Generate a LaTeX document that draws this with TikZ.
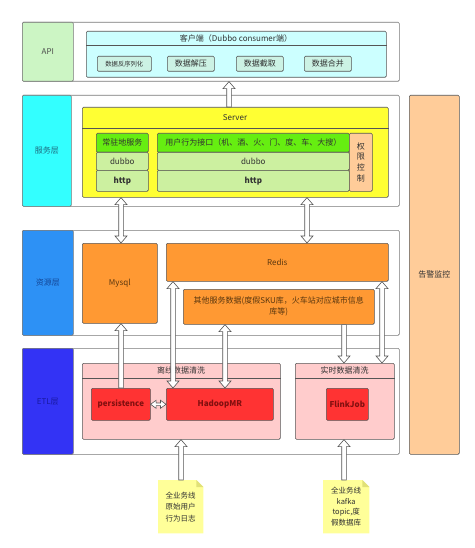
\documentclass[tikz,border=0pt]{standalone}
\usepackage{fontspec}
\setmainfont{Noto Sans CJK SC}
\usetikzlibrary{calc,backgrounds}
\definecolor{bd}{RGB}{85,85,85}
\definecolor{obd}{RGB}{120,120,120}
\definecolor{txt}{RGB}{50,50,50}
\definecolor{apigreen}{RGB}{204,245,196}
\definecolor{clientc}{RGB}{204,255,255}
\definecolor{smallc}{RGB}{204,242,228}
\definecolor{svccyan}{RGB}{51,255,255}
\definecolor{yellowc}{RGB}{255,255,51}
\definecolor{greenh}{RGB}{102,238,17}
\definecolor{palegreen}{RGB}{204,240,160}
\definecolor{peach}{RGB}{255,204,153}
\definecolor{resblue}{RGB}{45,145,245}
\definecolor{orangec}{RGB}{255,153,51}
\definecolor{etlblue}{RGB}{51,51,245}
\definecolor{pinkc}{RGB}{255,204,204}
\definecolor{redc}{RGB}{255,51,51}
\definecolor{notey}{RGB}{255,255,153}
\definecolor{notefold}{RGB}{225,225,120}
\definecolor{orangetxt}{RGB}{90,55,15}
\definecolor{redtxt}{RGB}{130,15,15}
% arrow geometry (pt): shaft half width, head half width, head length
\def\faw{2.3}\def\fahw{6}\def\fahl{7}
\newcommand\fatarrow[3]{%
  \path #2 coordinate (fas) #3 coordinate (fae);%
  \pgfpointdiff{\pgfpointanchor{fas}{center}}{\pgfpointanchor{fae}{center}}%
  \pgfgetlastxy{\fadx}{\fady}%
  \pgfmathsetmacro\falen{veclen(\fadx,\fady)}%
  \pgfmathsetmacro\faang{atan2(\fady,\fadx)}%
  \pgfmathsetmacro\fab{\falen-\fahl}%
  \begin{scope}[shift={(fas)}, rotate=\faang]
  \ifnum#1=1
    \draw[fatarr] (\fahl pt,-\faw pt) -- (\fab pt,-\faw pt) -- (\fab pt,-\fahw pt) -- (\falen pt,0pt) -- (\fab pt,\fahw pt) -- (\fab pt,\faw pt) -- (\fahl pt,\faw pt) -- (\fahl pt,\fahw pt) -- (0pt,0pt) -- (\fahl pt,-\fahw pt) -- cycle;
  \else
    \draw[fatarr] (0pt,-\faw pt) -- (\fab pt,-\faw pt) -- (\fab pt,-\fahw pt) -- (\falen pt,0pt) -- (\fab pt,\fahw pt) -- (\fab pt,\faw pt) -- (0pt,\faw pt) -- cycle;
  \fi
  \end{scope}%
}
\begin{document}
\begin{tikzpicture}[x=1pt,y=-1pt,
  box/.style={draw=bd, line width=0.6pt, rounded corners=1.2pt, inner sep=0pt, anchor=north west, text=txt, align=center, font=\fontsize{8}{10}\selectfont},
  layer/.style={box, draw=obd, fill=white, minimum width=377pt},
  lbl/.style={inner sep=0pt, text=txt, align=center, font=\fontsize{8}{10}\selectfont},
  fatarr/.style={draw=bd, fill=white, line width=0.6pt, line join=miter},
  note/.style={inner sep=0pt, anchor=north west, text=txt, align=center}]
\useasboundingbox (0,0) rectangle (474,548);
% x positions of connectors
\coordinate (c121) at (121,0);
\coordinate (c173) at (173,0);
\coordinate (c181) at (181,0);
\coordinate (c225) at (225,0);
\coordinate (c229) at (229,0);
\coordinate (c307) at (307,0);
\coordinate (c344) at (344,0);
\coordinate (c382) at (382,0);
% API layer
\node[layer, minimum height=59pt] (apiL) at (22,22) {};
\node[box, draw=obd, fill=apigreen, minimum width=51pt, minimum height=59pt, text=black!70] (apiLab) at (22,22) {API};
\node[box, fill=clientc, minimum width=300pt, minimum height=46pt] (client) at (86,31) {};
\draw[bd, line width=0.6pt] ($(client.north west)+(0,14)$) -- ($(client.north east)+(0,14)$);
\node[lbl] (clientT) at (236,38) {客户端（Dubbo consumer端）};
\node[box, fill=smallc, minimum width=54pt, minimum height=15pt, font=\fontsize{6.3}{8}\selectfont] (s1) at (97,56) {数据反序列化};
\node[box, fill=smallc, minimum width=47pt, minimum height=15pt] (s2) at (167,56) {数据解压};
\node[box, fill=smallc, minimum width=47pt, minimum height=15pt] (s3) at (236,56) {数据截取};
\node[box, fill=smallc, minimum width=47pt, minimum height=15pt] (s4) at (304,56) {数据合并};
% service layer
\node[layer, minimum height=111pt] (svcL) at (22,95) {};
\node[box, draw=obd, fill=svccyan, minimum width=49pt, minimum height=111pt, text={rgb,255:red,30;green,110;blue,130}] (svcLab) at (22,95) {服务层};
\node[box, fill=yellowc, minimum width=306pt, minimum height=90pt] (server) at (82,107) {};
\draw[bd, line width=0.6pt] ($(server.north west)+(0,21)$) -- ($(server.north east)+(0,21)$);
\node[lbl] (serverT) at (235,117.5) {Server};
\node[box, fill=greenh, minimum width=52pt, minimum height=19pt] (rzH) at (96,133) {常驻地服务};
\node[box, fill=palegreen, minimum width=52pt, minimum height=18pt] (rzD) at (96,152) {dubbo};
\node[box, fill=palegreen, minimum width=52pt, minimum height=21pt, font=\fontsize{8}{10}\selectfont\bfseries] (rzP) at (96,170) {http};
\node[box, fill=greenh, minimum width=192pt, minimum height=19pt] (uiH) at (157,133) {用户行为接口（机、酒、火、门、度、车、大搜）};
\node[box, fill=palegreen, minimum width=192pt, minimum height=18pt] (uiD) at (157,152) {dubbo};
\node[box, fill=palegreen, minimum width=192pt, minimum height=21pt, font=\fontsize{8}{10}\selectfont\bfseries] (uiP) at (157,170) {http};
\node[box, fill=peach, minimum width=23pt, minimum height=58pt, font=\fontsize{8}{10.7}\selectfont] (perm) at (349,133) {权\\限\\控\\制};
% alarm
\node[box, fill=peach, minimum width=50pt, minimum height=359pt] (alarm) at (409,95) {告警监控};
% resource layer
\node[layer, minimum height=105pt] (resL) at (22,230) {};
\node[box, draw=obd, fill=resblue, minimum width=51pt, minimum height=105pt, text={rgb,255:red,20;green,70;blue,150}] (resLab) at (22,230) {资源层};
\node[box, fill=orangec, minimum width=75pt, minimum height=80pt, text=orangetxt] (mysql) at (82,243) {Mysql};
\node[box, fill=orangec, minimum width=222pt, minimum height=38pt, text=orangetxt] (redis) at (166,243) {Redis};
\node[box, fill=orangec, minimum width=191pt, minimum height=35pt, text=orangetxt, font=\fontsize{8}{11}\selectfont] (other) at (183,289) {其他服务数据(度假SKU库，火车站对应城市信息\\库等)};
% ETL layer
\node[layer, minimum height=106pt] (etlL) at (22,348) {};
\node[box, draw=obd, fill=etlblue, minimum width=51pt, minimum height=106pt, text={rgb,255:red,25;green,25;blue,160}] (etlLab) at (22,348) {ETL层};
\node[box, fill=pinkc, minimum width=198pt, minimum height=76pt] (offline) at (82,363) {};
\draw[bd, line width=0.6pt] ($(offline.north west)+(0,15)$) -- ($(offline.north east)+(0,15)$);
\node[lbl] (offlineT) at (181,370.5) {离线数据清洗};
\node[box, fill=pinkc, minimum width=99pt, minimum height=76pt] (rt) at (295,363) {};
\draw[bd, line width=0.6pt] ($(rt.north west)+(0,15)$) -- ($(rt.north east)+(0,15)$);
\node[lbl] (rtT) at (344.5,370.5) {实时数据清洗};
\node[box, fill=redc, minimum width=59pt, minimum height=32pt, text=redtxt, font=\fontsize{8}{10}\selectfont\bfseries] (pers) at (91,388) {persistence};
\node[box, fill=redc, minimum width=107pt, minimum height=32pt, text=redtxt, font=\fontsize{8}{10}\selectfont\bfseries] (hadoop) at (166,388) {HadoopMR};
\node[box, fill=redc, minimum width=42pt, minimum height=32pt, text=redtxt, font=\fontsize{8}{10}\selectfont\bfseries] (flink) at (326,388) {FlinkJob};
% notes
\node[note, minimum width=45pt, minimum height=53pt, font=\fontsize{7.5}{11.5}\selectfont] (note1) at (158,480) {全业务线\\原始用户\\行为日志};
\node[note, minimum width=46pt, minimum height=53pt, font=\fontsize{7.5}{10.5}\selectfont] (note2) at (323,480) {全业务线\\kafka\\topic,度\\假数据库};
\begin{pgfonlayer}{background}
\fill[white] (0,0) rectangle (474,548);
\foreach \n in {note1,note2}{
  \fill[notey] (\n.south west) -- (\n.north west) -- ($(\n.north east)+(-7,0)$) -- ($(\n.north east)+(0,7)$) -- (\n.south east) -- cycle;
  \fill[notefold] ($(\n.north east)+(-7,0)$) -- ($(\n.north east)+(-7,7)$) -- ($(\n.north east)+(0,7)$) -- cycle;
}
\end{pgfonlayer}
% connectors
\fatarrow{0}{(server.north -| c229)}{(apiL.south -| c229)}
\fatarrow{1}{(server.south -| c121)}{(mysql.north -| c121)}
\fatarrow{1}{(server.south -| c307)}{(redis.north -| c307)}
\fatarrow{0}{(pers.north -| c121)}{(mysql.south -| c121)}
\fatarrow{1}{(redis.south -| c173)}{(hadoop.north -| c173)}
\fatarrow{1}{(other.south -| c225)}{(hadoop.north -| c225)}
\fatarrow{0}{(other.south -| c344)}{(rt.north -| c344)}
\fatarrow{1}{(redis.south -| c382)}{(rt.north -| c382)}
\fatarrow{0}{(note1.north -| c181)}{(offline.south -| c181)}
\fatarrow{0}{(note2.north -| c344)}{(rt.south -| c344)}
\def\faw{1.3}\def\fahw{4}\def\fahl{5.5}
\fatarrow{1}{(pers.east)}{(hadoop.west)}
\end{tikzpicture}
\end{document}
